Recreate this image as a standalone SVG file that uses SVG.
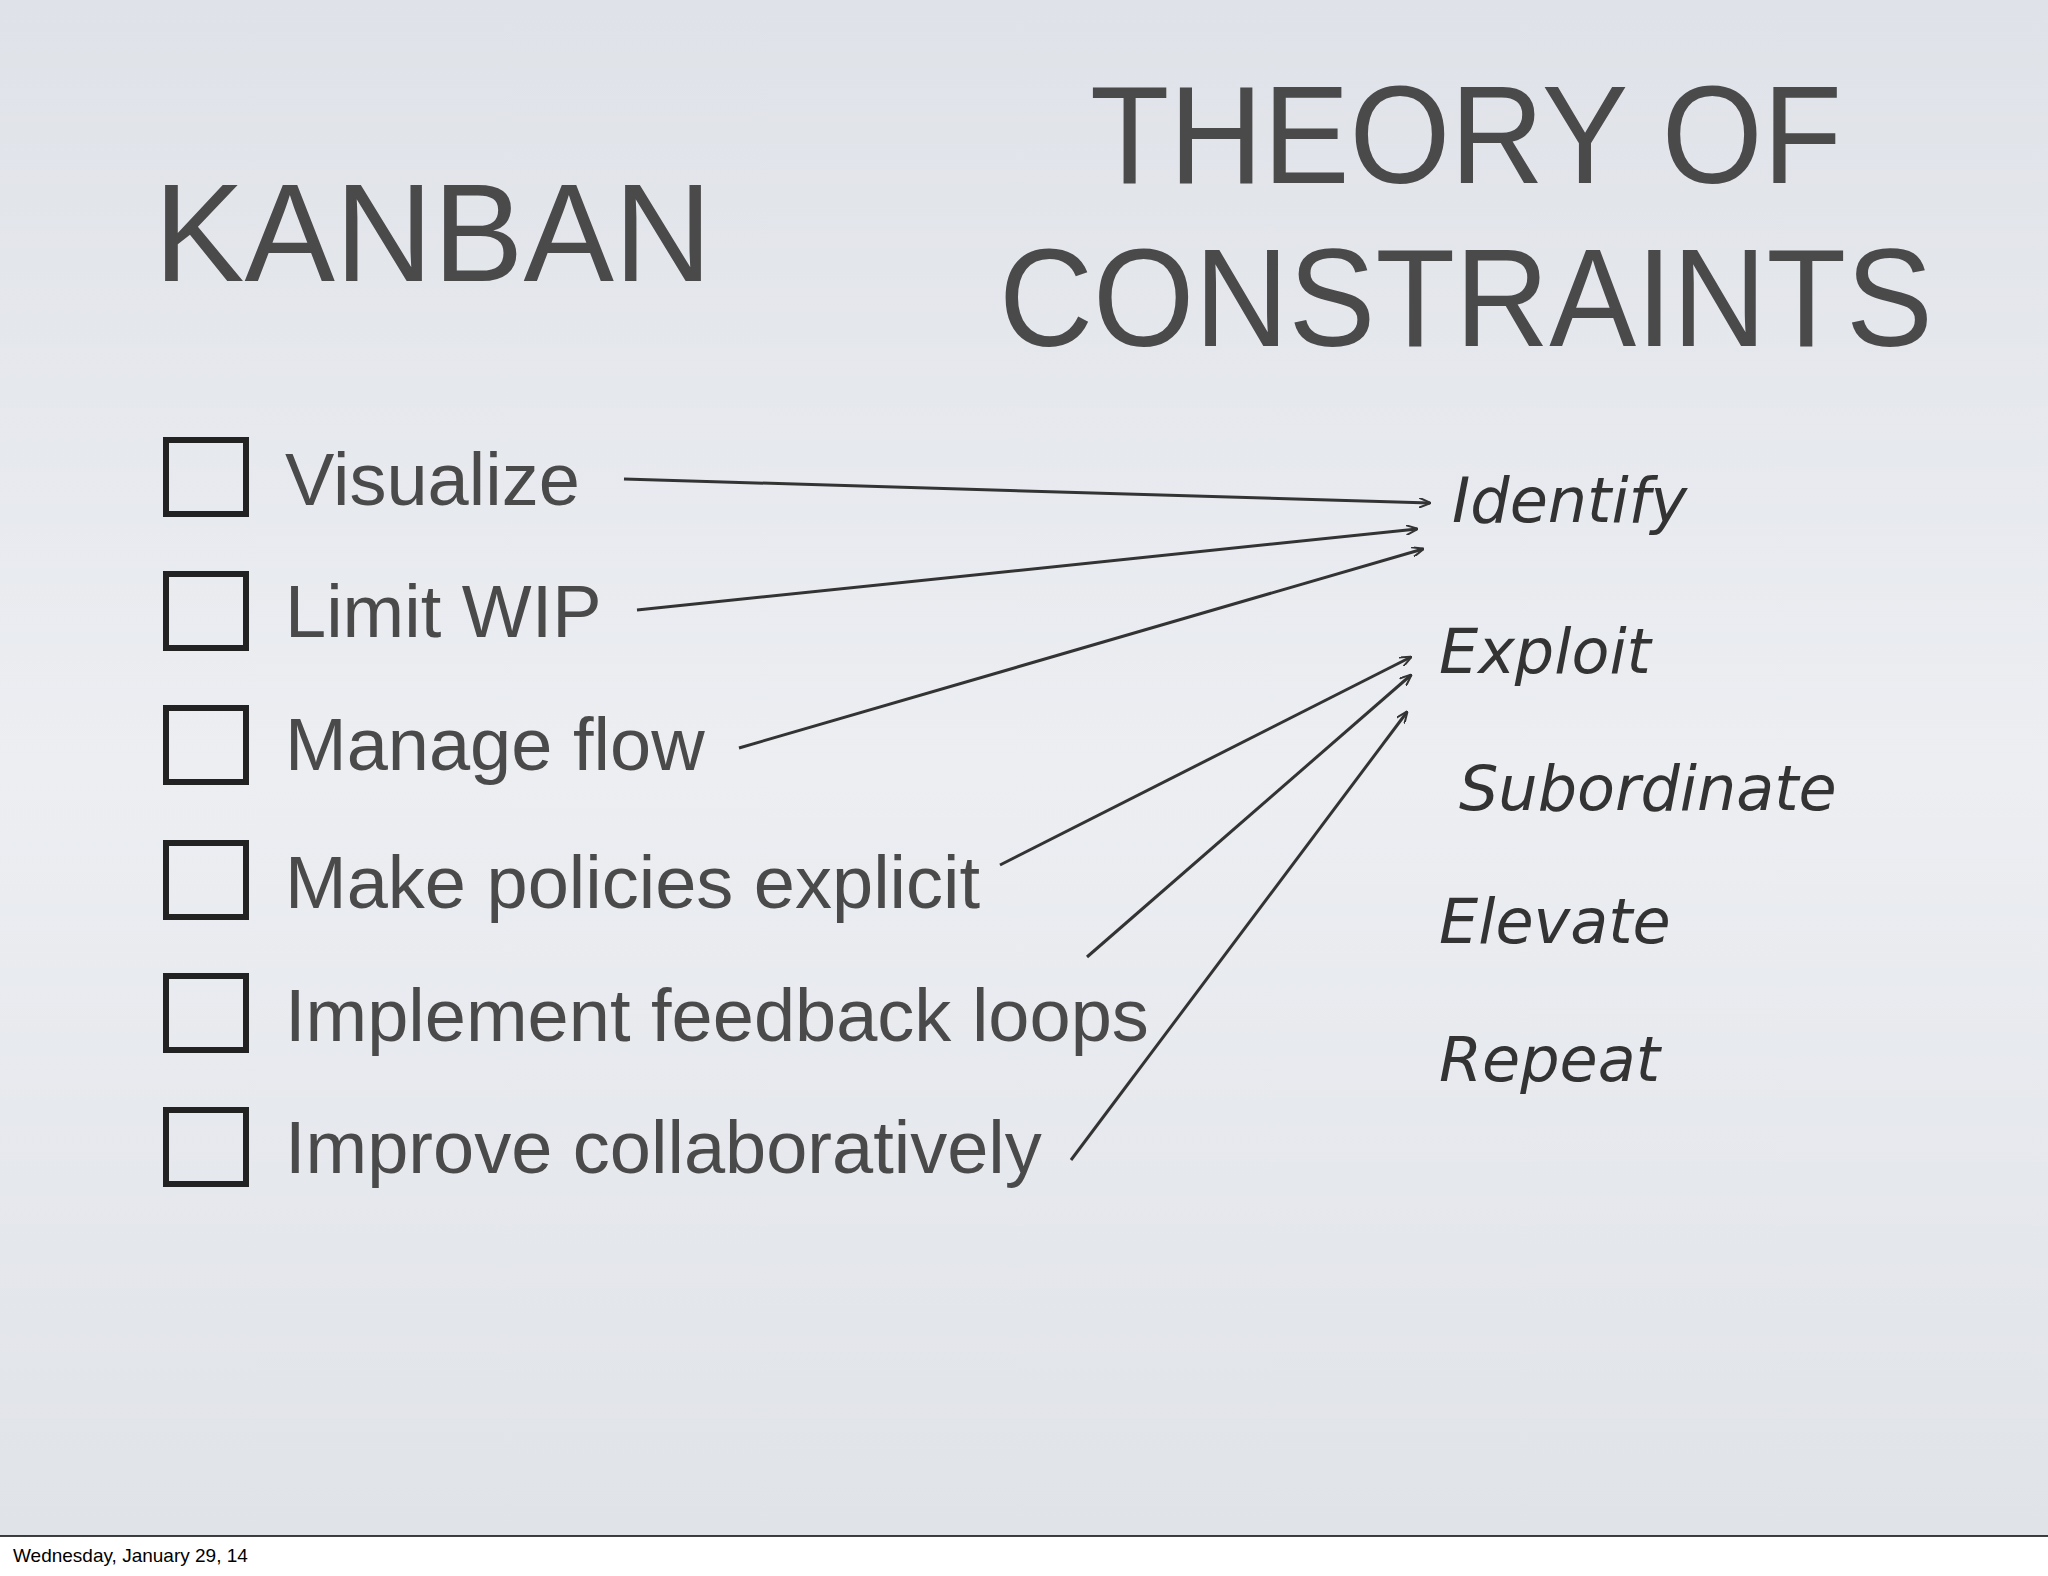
<svg xmlns="http://www.w3.org/2000/svg" width="2048" height="1576" viewBox="0 0 2048 1576">
<defs>
<linearGradient id="bg" x1="0" y1="0" x2="0" y2="1">
<stop offset="0" stop-color="#dfe2e8"/><stop offset="0.5" stop-color="#eceef2"/><stop offset="1" stop-color="#e0e3e8"/>
</linearGradient>
<marker id="ah" viewBox="0 0 12 10" refX="11" refY="5" markerWidth="12" markerHeight="10" markerUnits="userSpaceOnUse" orient="auto">
<path d="M0,0 L12,5 L0,10" fill="none" stroke="#333" stroke-width="2"/>
</marker>
<style>
.t{font-family:"Liberation Sans",Lato,sans-serif;fill:#4a4a4a}
.h{font-size:140px}
.i{font-size:74px}
.w{font-family:"DejaVu Sans",sans-serif;font-style:italic;font-size:62px;fill:#333}
.cb{fill:none;stroke:#222;stroke-width:6}
.c{stroke:#333;stroke-width:3;fill:none;marker-end:url(#ah)}
</style>
</defs>
<rect width="2048" height="1536" fill="url(#bg)"/>
<rect y="1536" width="2048" height="40" fill="#fff"/>
<line x1="0" y1="1536" x2="2048" y2="1536" stroke="#000" stroke-width="1.5"/>
<text x="13" y="1562" font-family="Liberation Sans,sans-serif" font-size="19" fill="#000">Wednesday, January 29, 14</text>
<g id="titles">
<text class="t h" x="154" y="281" textLength="558" lengthAdjust="spacingAndGlyphs">KANBAN</text>
<text class="t h" x="1090" y="183" textLength="752" lengthAdjust="spacingAndGlyphs">THEORY OF</text>
<text class="t h" x="999" y="346" textLength="934" lengthAdjust="spacingAndGlyphs">CONSTRAINTS</text>
</g>
<g id="n1"><rect class="cb" x="166" y="440" width="80" height="74"/><text class="t i" x="285" y="505">Visualize</text></g>
<g id="n2"><rect class="cb" x="166" y="574" width="80" height="74"/><text class="t i" x="285" y="637">Limit WIP</text></g>
<g id="n3"><rect class="cb" x="166" y="708" width="80" height="74"/><text class="t i" x="285" y="770">Manage flow</text></g>
<g id="n4"><rect class="cb" x="166" y="843" width="80" height="74"/><text class="t i" x="285" y="908">Make policies explicit</text></g>
<g id="n5"><rect class="cb" x="166" y="976" width="80" height="74"/><text class="t i" x="285" y="1041">Implement feedback loops</text></g>
<g id="n6"><rect class="cb" x="166" y="1110" width="80" height="74"/><text class="t i" x="285" y="1173">Improve collaboratively</text></g>
<g id="r1"><text class="w" x="1452" y="522">Identify</text></g>
<g id="r2"><text class="w" x="1439" y="673">Exploit</text></g>
<g id="r3"><text class="w" x="1459" y="810">Subordinate</text></g>
<g id="r4"><text class="w" x="1439" y="943">Elevate</text></g>
<g id="r5"><text class="w" x="1439" y="1081">Repeat</text></g>
<g id="connectors">
<line class="c" x1="624" y1="479" x2="1430" y2="503"/>
<line class="c" x1="637" y1="610" x2="1417" y2="529"/>
<line class="c" x1="739" y1="748" x2="1423" y2="549"/>
<line class="c" x1="1000" y1="865" x2="1411" y2="657"/>
<line class="c" x1="1087" y1="957" x2="1411" y2="675"/>
<line class="c" x1="1071" y1="1160" x2="1407" y2="712"/>
</g>
</svg>
